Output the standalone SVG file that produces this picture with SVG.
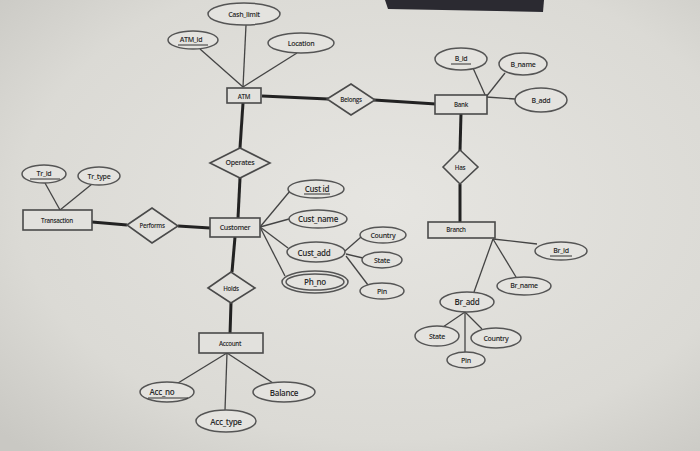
<svg xmlns="http://www.w3.org/2000/svg" width="700" height="451" viewBox="0 0 700 451">
<defs>
<radialGradient id="bg" cx="0.55" cy="0.45" r="0.75">
<stop offset="0" stop-color="#e6e5e1"/>
<stop offset="0.7" stop-color="#dbdad5"/>
<stop offset="1" stop-color="#c9c8c3"/>
</radialGradient>
<style>
.ent{fill:#e2e1dd;stroke:#4a4a4a;stroke-width:1.6}
.rel{fill:#e2e1dd;stroke:#4a4a4a;stroke-width:1.6}
.att{fill:#e4e3df;stroke:#555;stroke-width:1.5}
.thick{stroke:#222;stroke-width:3;fill:none}
.thin{stroke:#444;stroke-width:1.3;fill:none}
text{font-family:"Open Sans","Noto Sans",sans-serif;fill:#2a2a2a;font-weight:600;letter-spacing:-0.3px;text-anchor:middle;dominant-baseline:central}
.t7{font-size:7px}
.t6{font-size:6.2px}
.t8{font-size:8px}
.ul{stroke:#333;stroke-width:1}
</style>
</defs>
<rect width="700" height="451" fill="url(#bg)"/>
<polygon points="385,0 544,0 543,12 388,9" fill="#2b2a31"/>

<g id="connectors">
<line class="thick" x1="262" y1="96" x2="328" y2="99"/>
<line class="thick" x1="374" y1="100" x2="436" y2="104"/>
<line class="thick" x1="243" y1="103" x2="240" y2="148"/>
<line class="thick" x1="240" y1="178" x2="238" y2="218"/>
<line class="thick" x1="461" y1="113" x2="460" y2="151"/>
<line class="thick" x1="460" y1="184" x2="460" y2="222"/>
<line class="thick" x1="92" y1="222" x2="127" y2="225"/>
<line class="thick" x1="178" y1="226" x2="210" y2="228"/>
<line class="thick" x1="235" y1="237" x2="232" y2="272"/>
<line class="thick" x1="231" y1="303" x2="230" y2="334"/>
<line class="thin" x1="243" y1="87" x2="200" y2="49"/>
<line class="thin" x1="243" y1="87" x2="246" y2="25"/>
<line class="thin" x1="243" y1="87" x2="297" y2="53"/>
<line class="thin" x1="486" y1="97" x2="473" y2="68"/>
<line class="thin" x1="486" y1="97" x2="505" y2="73"/>
<line class="thin" x1="486" y1="97" x2="515" y2="99"/>
<line class="thin" x1="493" y1="239" x2="537" y2="244"/>
<line class="thin" x1="493" y1="239" x2="516" y2="277"/>
<line class="thin" x1="493" y1="239" x2="474" y2="292"/>
<line class="thin" x1="465" y1="312" x2="443" y2="327"/>
<line class="thin" x1="465" y1="312" x2="482" y2="329"/>
<line class="thin" x1="465" y1="312" x2="465" y2="352"/>
<line class="thin" x1="260" y1="227" x2="290" y2="191"/>
<line class="thin" x1="260" y1="227" x2="289" y2="219"/>
<line class="thin" x1="260" y1="227" x2="288" y2="248"/>
<line class="thin" x1="260" y1="227" x2="285" y2="276"/>
<line class="thin" x1="345" y1="251" x2="361" y2="237"/>
<line class="thin" x1="346" y1="254" x2="363" y2="258"/>
<line class="thin" x1="346" y1="256" x2="368" y2="285"/>
<line class="thin" x1="227" y1="353" x2="178" y2="383"/>
<line class="thin" x1="227" y1="353" x2="225" y2="410"/>
<line class="thin" x1="227" y1="353" x2="273" y2="383"/>
<line class="thin" x1="60" y1="210" x2="45" y2="183"/>
<line class="thin" x1="60" y1="210" x2="92" y2="184"/>
</g>

<g id="ATM"><rect class="ent" x="227" y="88" width="34" height="15"/><text class="t6" x="244" y="96">ATM</text></g>
<g id="Cash_limit"><ellipse class="att" cx="244" cy="14" rx="36" ry="11"/><text class="t7" x="244" y="14">Cash_limit</text></g>
<g id="ATM_id"><ellipse class="att" cx="193" cy="40" rx="25" ry="9"/><text class="t7" x="191" y="39">ATM_id</text><line class="ul" x1="178" y1="45" x2="208" y2="45"/></g>
<g id="Location"><ellipse class="att" cx="301" cy="43" rx="33" ry="10"/><text class="t7" x="301" y="43">Location</text></g>
<g id="Belongs"><polygon class="rel" points="327,99 351,84 375,100 351,115"/><text class="t6" x="351" y="99">Belongs</text></g>
<g id="Bank"><rect class="ent" x="435" y="95" width="52" height="19"/><text class="t6" x="461" y="104">Bank</text></g>
<g id="B_id"><ellipse class="att" cx="461" cy="59" rx="26" ry="11"/><text class="t7" x="461" y="58">B_id</text><line class="ul" x1="451" y1="64" x2="471" y2="64"/></g>
<g id="B_name"><ellipse class="att" cx="523" cy="64" rx="24" ry="11"/><text class="t7" x="523" y="64">B_name</text></g>
<g id="B_add"><ellipse class="att" cx="541" cy="100" rx="26" ry="12"/><text class="t7" x="541" y="100">B_add</text></g>
<g id="Has"><polygon class="rel" points="443,167 460,150 478,167 460,184"/><text class="t6" x="460" y="167">Has</text></g>
<g id="Branch"><rect class="ent" x="428" y="222" width="67" height="16"/><text class="t6" x="456" y="229">Branch</text></g>
<g id="Br_id"><ellipse class="att" cx="561" cy="251" rx="26" ry="9"/><text class="t7" x="561" y="250">Br_id</text><line class="ul" x1="550" y1="256" x2="572" y2="256"/></g>
<g id="Br_name"><ellipse class="att" cx="524" cy="286" rx="27" ry="9"/><text class="t7" x="524" y="285">Br_name</text></g>
<g id="Br_add"><ellipse class="att" cx="467" cy="302" rx="27" ry="10"/><text class="t8" x="467" y="301">Br_add</text></g>
<g id="Br_State"><ellipse class="att" cx="437" cy="336" rx="22" ry="10"/><text class="t7" x="437" y="336">State</text></g>
<g id="Br_Country"><ellipse class="att" cx="496" cy="338" rx="25" ry="10"/><text class="t7" x="496" y="338">Country</text></g>
<g id="Br_Pin"><ellipse class="att" cx="466" cy="360" rx="19" ry="8"/><text class="t7" x="466" y="360">Pin</text></g>
<g id="Operates"><polygon class="rel" points="210,163 240,148 270,163 240,178"/><text class="t7" x="240" y="162">Operates</text></g>
<g id="Customer"><rect class="ent" x="210" y="218" width="50" height="19"/><text class="t7" x="235" y="227">Customer</text></g>
<g id="Cust_id"><ellipse class="att" cx="316" cy="189" rx="28" ry="9"/><text class="t8" x="317" y="188">Cust id</text><line class="ul" x1="304" y1="194" x2="330" y2="194"/></g>
<g id="Cust_name"><ellipse class="att" cx="318" cy="219" rx="29" ry="9"/><text class="t8" x="318" y="218">Cust_name</text></g>
<g id="Cust_add"><ellipse class="att" cx="316" cy="252" rx="29" ry="10"/><text class="t8" x="314" y="252">Cust_add</text></g>
<g id="Ph_no"><ellipse class="att" cx="315" cy="282" rx="33" ry="11"/><ellipse class="att" cx="315" cy="282" rx="29" ry="8"/><text class="t8" x="315" y="281">Ph_no</text></g>
<g id="Country"><ellipse class="att" cx="383" cy="235" rx="23" ry="8"/><text class="t7" x="383" y="235">Country</text></g>
<g id="State"><ellipse class="att" cx="382" cy="260" rx="20" ry="8"/><text class="t7" x="382" y="260">State</text></g>
<g id="Pin"><ellipse class="att" cx="382" cy="291" rx="22" ry="8"/><text class="t7" x="382" y="291">Pin</text></g>
<g id="Holds"><polygon class="rel" points="208,288 231,272 255,288 231,303"/><text class="t6" x="231" y="288">Holds</text></g>
<g id="Account"><rect class="ent" x="199" y="333" width="64" height="20"/><text class="t6" x="230" y="343">Account</text></g>
<g id="Acc_no"><ellipse class="att" cx="167" cy="392" rx="27" ry="10"/><text class="t8" x="162" y="391">Acc_no</text><line class="ul" x1="148" y1="398" x2="188" y2="398"/></g>
<g id="Balance"><ellipse class="att" cx="284" cy="392" rx="31" ry="10"/><text class="t8" x="284" y="392">Balance</text></g>
<g id="Acc_type"><ellipse class="att" cx="226" cy="421" rx="30" ry="11"/><text class="t8" x="226" y="421">Acc_type</text></g>
<g id="Transaction"><rect class="ent" x="23" y="210" width="69" height="20"/><text class="t6" x="57" y="220">Transaction</text></g>
<g id="Tr_id"><ellipse class="att" cx="44" cy="174" rx="22" ry="9"/><text class="t7" x="44" y="173">Tr_id</text><line class="ul" x1="30" y1="179" x2="60" y2="179"/></g>
<g id="Tr_type"><ellipse class="att" cx="99" cy="176" rx="21" ry="9"/><text class="t7" x="99" y="176">Tr_type</text></g>
<g id="Performs"><polygon class="rel" points="127,225 152,208 178,226 152,243"/><text class="t6" x="152" y="225">Performs</text></g>
</svg>
